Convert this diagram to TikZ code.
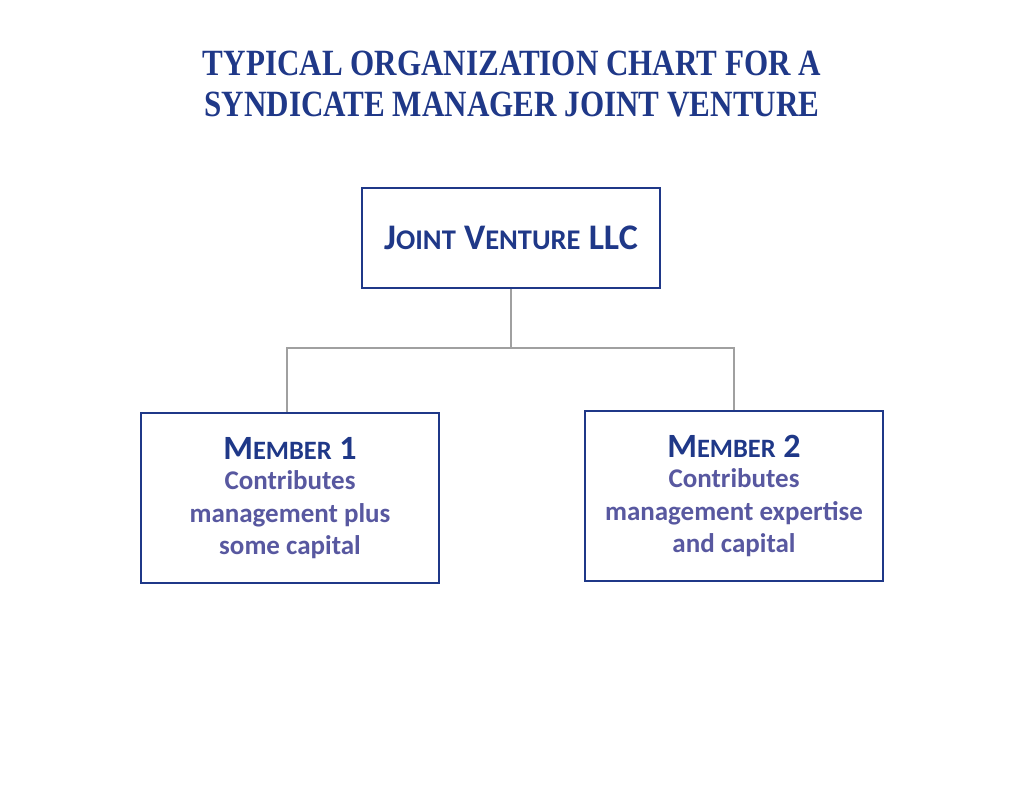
\documentclass[tikz,border=0pt]{standalone}
\usepackage{fontspec}
\setmainfont{Carlito}
\newfontfamily\titlefont[FakeStretch=0.84]{Liberation Serif}
\definecolor{hdblue}{RGB}{31,56,136}
\definecolor{bodyblue}{RGB}{88,88,160}
\definecolor{linegray}{RGB}{160,160,160}
\newcommand{\fsc}[2]{{\fontsize{\bigsz}{\bigsz}\selectfont #1}{\fontsize{\smsz}{\smsz}\selectfont #2}}
\newcommand{\bigsz}{34}
\newcommand{\smsz}{26.5}
\newcommand{\hd}[1]{{\color{hdblue}\fontsize{\bigsz}{\bigsz}\selectfont #1}}
\tikzset{
  box/.style={draw=hdblue, line width=2.2pt, fill=white, minimum width=298pt, inner sep=0pt, align=center,
    text=bodyblue, font=\bfseries\fontsize{27}{32.5}\selectfont},
  conn/.style={draw=linegray, line width=2pt},
}
\begin{document}
\begin{tikzpicture}[x=1pt,y=-1pt]
\useasboundingbox (0,0) rectangle (1024,791);
\node[text=hdblue, font=\titlefont\bfseries\fontsize{37}{41}\selectfont, align=center, anchor=base] (title) at (512,117)
  {TYPICAL ORGANIZATION CHART FOR A\\SYNDICATE MANAGER JOINT VENTURE};
\node[box, minimum height=100pt, text=hdblue] (jv) at (511,238)
  {\renewcommand{\bigsz}{36}\renewcommand{\smsz}{28.5}\hd{\fsc{J}{OINT} \fsc{V}{ENTURE} LLC}};
\node[box, minimum height=170pt] (m1) at (290,498)
  {\hd{\fsc{M}{EMBER} 1}\\[-2pt]
   Contributes\\ management plus\\ some capital};
\node[box, minimum height=170pt] (m2) at (734,496)
  {\hd{\fsc{M}{EMBER} 2}\\[-2pt]
   Contributes\\ management expertise\\ and capital};
\coordinate (mid) at (511,348);
\draw[conn] (jv.south) -- (mid);
\draw[conn] (mid) -| ([xshift=-3pt]m1.north);
\draw[conn] (mid) -| (m2.north);
\end{tikzpicture}
\end{document}
